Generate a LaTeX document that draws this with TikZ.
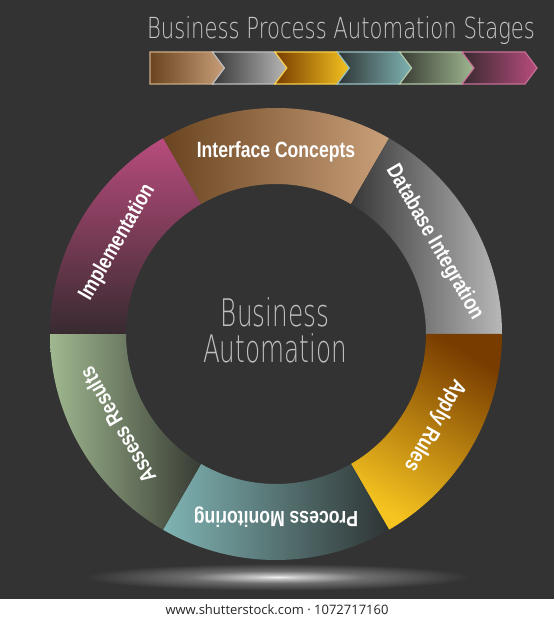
\documentclass[tikz,border=0pt]{standalone}
\usepackage{fontspec}
\setmainfont{Liberation Sans}
\newfontfamily\labelfont{Liberation Sans Bold}[FakeStretch=0.8]
\newfontfamily\titlefont{DejaVu Sans ExtraLight}[FakeStretch=0.73]
\newfontfamily\centerfont{DejaVu Sans ExtraLight}[FakeStretch=0.65]
\newfontfamily\urlfont{Open Sans}
\usetikzlibrary{calc}

\definecolor{bg}{HTML}{333333}
\definecolor{brownD}{HTML}{6A4420}
\definecolor{brownL}{HTML}{C9A07A}
\definecolor{grayD}{HTML}{383838}
\definecolor{grayL}{HTML}{B8B8B8}
\definecolor{goldD}{HTML}{783C00}
\definecolor{goldL}{HTML}{F6C420}
\definecolor{tealD}{HTML}{2E3434}
\definecolor{tealL}{HTML}{80B4B4}
\definecolor{greenD}{HTML}{383C34}
\definecolor{greenL}{HTML}{A0B890}
\definecolor{pinkD}{HTML}{382A30}
\definecolor{pinkL}{HTML}{B84C7C}
\definecolor{glowC}{HTML}{F4F4F4}
\definecolor{glowH}{HTML}{C4C4C4}
\definecolor{glowM}{HTML}{6E6E6E}
\pgfdeclareradialshading{floorglow}{\pgfpoint{0bp}{0bp}}{color(0bp)=(glowC); color(3bp)=(glowH); color(11bp)=(glowM); color(24bp)=(bg); color(50bp)=(bg)}

\begin{document}
\begin{tikzpicture}[x=1pt,y=1pt,
  seglabel/.style={text=white,font=\labelfont\fontsize{22}{22}\selectfont},
  centertext/.style={anchor=base,text=black!25,font=\centerfont\fontsize{38}{38}\selectfont},
  chevron/.style={line width=1.2pt}]
\useasboundingbox (0,0) rectangle (554,620);
\fill[bg] (0,21) rectangle (554,620);

% glow under the ring
\shade[shading=floorglow] (77,29) rectangle (477,57);

% title and stage arrows
\node[anchor=base,text=black!22,font=\titlefont\fontsize{29}{29}\selectfont] (title) at (341,581) {Business Process Automation Stages};
\shade[chevron,left color=brownD,right color=brownL,draw=brownL!90!white] (150,568) -- (214,568) -- (226,552) -- (214,536) -- (150,536) -- cycle;
\shade[chevron,left color=grayD,right color=grayL,draw=grayL!90!white] (212.4,568) -- (275.4,568) -- (287.4,552) -- (275.4,536) -- (212.4,536) -- (224.4,552) -- cycle;
\shade[chevron,left color=goldD,right color=goldL,draw=goldL!80!white] (274.8,568) -- (337.8,568) -- (349.8,552) -- (337.8,536) -- (274.8,536) -- (286.8,552) -- cycle;
\shade[chevron,left color=tealD,right color=tealL,draw=tealL!80!white] (337.2,568) -- (400.2,568) -- (412.2,552) -- (400.2,536) -- (337.2,536) -- (349.2,552) -- cycle;
\shade[chevron,left color=greenD,right color=greenL,draw=greenL!80!white] (399.6,568) -- (462.6,568) -- (474.6,552) -- (462.6,536) -- (399.6,536) -- (411.6,552) -- cycle;
\shade[chevron,left color=pinkD,right color=pinkL,draw=pinkL!80!white] (462,568) -- (525,568) -- (537,552) -- (525,536) -- (462,536) -- (474,552) -- cycle;

% ring
\begin{scope}[shift={(276,286)}]
\shade[left color=brownD,right color=brownL] (60:226) arc[start angle=60,end angle=120,radius=226] -- (120:150) arc[start angle=120,end angle=60,radius=150] -- cycle;
\shade[left color=grayD,right color=grayL] (0:226) arc[start angle=0,end angle=60,radius=226] -- (60:150) arc[start angle=60,end angle=0,radius=150] -- cycle;
\shade[top color=goldD,bottom color=goldL,shading angle=-30] (-60:226) arc[start angle=-60,end angle=0,radius=226] -- (0:150) arc[start angle=0,end angle=-60,radius=150] -- cycle;
\shade[left color=tealL,right color=tealD] (-120:226) arc[start angle=-120,end angle=-60,radius=226] -- (-60:150) arc[start angle=-60,end angle=-120,radius=150] -- cycle;
\shade[left color=greenL,right color=greenD] (180:226) arc[start angle=180,end angle=240,radius=226] -- (240:150) arc[start angle=240,end angle=180,radius=150] -- cycle;
\shade[top color=pinkL,bottom color=pinkD] (120:226) arc[start angle=120,end angle=180,radius=226] -- (180:150) arc[start angle=180,end angle=120,radius=150] -- cycle;

\node[seglabel,rotate=0] (intc) at (90:182) {Interface Concepts};
\node[seglabel,rotate=-60] (dbint) at (30:183) {Database Integration};
\node[seglabel,rotate=-120] (rules) at (-30:183) {Apply Rules};
\node[seglabel,rotate=180] (mon) at (-90:183) {Process Monitoring};
\node[seglabel,rotate=120] (assess) at (-150:183) {Assess Results};
\node[seglabel,rotate=60] (impl) at (150:183) {Implementation};
\end{scope}

% centre
\node[centertext] (bus) at (275,293) {Business};
\node[centertext] (auto) at (275,257) {Automation};

% footer
\fill[white] (0,0) rectangle (554,21);
\node[text=black!85,font=\urlfont\fontsize{13}{13}\selectfont] (url) at (277,10) {www.shutterstock.com · 1072717160};
\end{tikzpicture}
\end{document}
